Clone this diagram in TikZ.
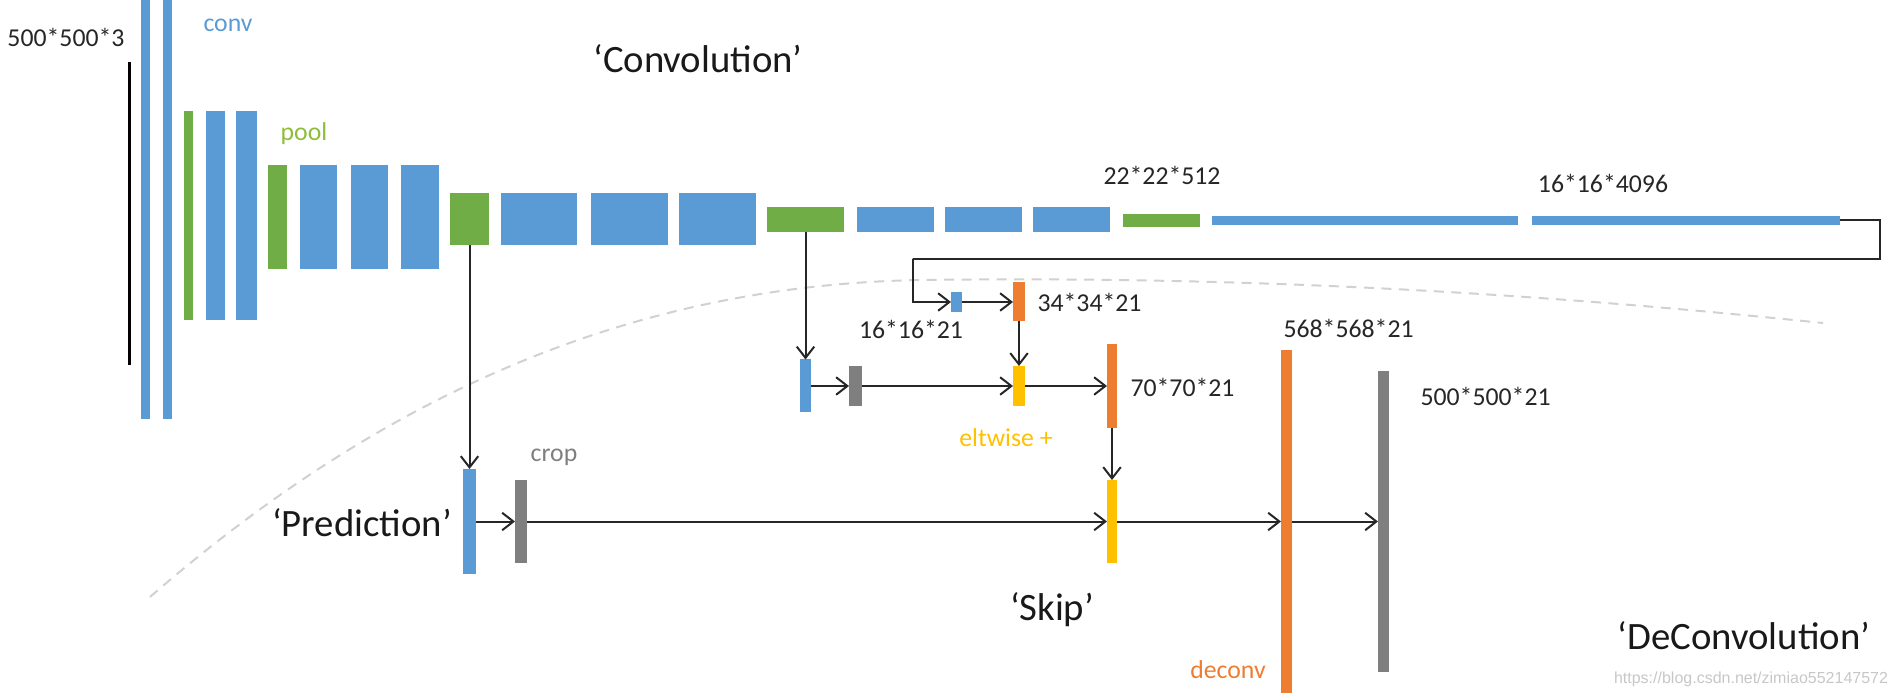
\documentclass[tikz,border=0pt]{standalone}
\usepackage{fontspec}
\setmainfont{Carlito}
\newfontfamily\markfont{Liberation Sans}
\usetikzlibrary{arrows.meta}
\definecolor{convblue}{HTML}{5B9BD5}
\definecolor{poolgreen}{HTML}{70AD47}
\definecolor{deconvorange}{HTML}{ED7D31}
\definecolor{fuseyellow}{HTML}{FFC000}
\definecolor{cropgray}{HTML}{7F7F7F}
\tikzset{
  bar/.style 2 args = {shape=rectangle, inner sep=0pt, outer sep=0pt,
                       minimum width=#1*0.4pt, minimum height=#2*0.4pt},
  conv/.style 2 args   = {bar={#1}{#2}, fill=convblue},
  pool/.style 2 args   = {bar={#1}{#2}, fill=poolgreen},
  deconv/.style 2 args = {bar={#1}{#2}, fill=deconvorange},
  fuse/.style 2 args   = {bar={#1}{#2}, fill=fuseyellow},
  crop/.style 2 args   = {bar={#1}{#2}, fill=cropgray},
  dims/.style  = {inner sep=0pt, text=black!85, font=\fontsize{10.3}{12}\selectfont},
  tag/.style   = {inner sep=0pt, font=\fontsize{10.3}{12}\selectfont},
  stage/.style = {inner sep=0pt, text=black!90, font=\fontsize{15.5}{18}\selectfont},
  flow/.style  = {draw=black!85, line width=0.8pt,
                  -{Straight Barb[length=4.5pt,width=7pt]}},
  split/.style = {draw=black!18, line width=0.8pt, dash pattern=on 4pt off 3pt}
}
\begin{document}
\begin{tikzpicture}[x=0.4pt, y=-0.4pt]
  \useasboundingbox (0,0) rectangle (1897,698);

  % border between convolution and deconvolution
  \draw [split] (150,597) .. controls (400,380) and (650,285) .. (920,280)
                .. controls (1300,275) and (1600,300) .. (1823,323);

  % convolution layers
  \node [bar={3}{303}, fill=black] (img) at (129.5,213.5) {};
  \node [conv={9}{419}]  (c11) at (145.5,209.5) {};
  \node [conv={9}{419}]  (c12) at (167.5,209.5) {};
  \node [pool={9}{209}]  (p1)  at (188.5,215.5) {};
  \node [conv={19}{209}] (c21) at (215.5,215.5) {};
  \node [conv={21}{209}] (c22) at (246.5,215.5) {};
  \node [pool={19}{104}] (p2)  at (277.5,217) {};
  \node [conv={37}{104}] (c31) at (318.5,217) {};
  \node [conv={37}{104}] (c32) at (369.5,217) {};
  \node [conv={38}{104}] (c33) at (420,217) {};
  \node [pool={39}{52}]  (p3)  at (469.5,219) {};
  \node [conv={76}{52}]  (c41) at (539,219) {};
  \node [conv={77}{52}]  (c42) at (629.5,219) {};
  \node [conv={77}{52}]  (c43) at (717.5,219) {};
  \node [pool={77}{25}]  (p4)  at (805.5,219.5) {};
  \node [conv={77}{25}]  (c51) at (895.5,219.5) {};
  \node [conv={77}{25}]  (c52) at (983.5,219.5) {};
  \node [conv={77}{25}]  (c53) at (1071.5,219.5) {};
  \node [pool={77}{13}]  (p5)  at (1161.5,220.5) {};
  \node [conv={306}{9}]  (fc6) at (1365,220.5) {};
  \node [conv={308}{9}]  (fc7) at (1686,220.5) {};

  % score, upsampling and fusion layers
  \node [conv={11}{20}]    (s7)  at (956.5,302) {};
  \node [deconv={12}{39}]  (up2) at (1019,302) {};
  \node [conv={11}{53}]    (s4)  at (805.5,386) {};
  \node [crop={13}{40}]    (cr4) at (855.5,386) {};
  \node [fuse={12}{40}]    (f4)  at (1019,386) {};
  \node [deconv={10}{84}]  (up4) at (1112,386) {};
  \node [conv={13}{105}]   (s3)  at (469.5,521.5) {};
  \node [crop={12}{83}]    (cr3) at (521,521.5) {};
  \node [fuse={10}{83}]    (f3)  at (1112,521.5) {};
  \node [deconv={11}{342}] (up8) at (1286.5,521.5) {};
  \node [crop={11}{301}]   (out) at (1383.5,521.5) {};

  \coordinate (turn) at (913,259);

  \draw [flow] (fc7.east) -| ++(40,39) -| (turn) |- (s7.west);
  \draw [flow] (s7) -- (up2);
  \draw [flow] (up2) -- (f4);
  \draw [flow] (p4) -- (s4);
  \draw [flow] (s4) -- (cr4);
  \draw [flow] (cr4) -- (f4);
  \draw [flow] (f4) -- (up4);
  \draw [flow] (up4) -- (f3);
  \draw [flow] (p3) -- (s3);
  \draw [flow] (s3) -- (cr3);
  \draw [flow] (cr3) -- (f3);
  \draw [flow] (f3) -- (up8);
  \draw [flow] (up8) -- (out);

  % labels
  \node [dims] (limg) at (66,37) {500*500*3};
  \node [tag, text=convblue] (lconv) at (228,25) {conv};
  \node [tag, text=poolgreen!80!yellow] (lpool) at (304,134) {pool};
  \node [stage] (lconvolution) at (698,59) {‘Convolution’};
  \node [dims] (lp5) at (1162,175) {22*22*512};
  \node [dims] (lfc7) at (1603,183) {16*16*4096};
  \node [dims] (ls7) at (911,329) {16*16*21};
  \node [dims, anchor=west] (lup2) at (1037,302) {34*34*21};
  \node [dims, anchor=west] (lup4) at (1130,387) {70*70*21};
  \node [tag, text=fuseyellow] (lfuse) at (1006,438) {eltwise +};
  \node [dims, anchor=west] (lup8) at (1283,328) {568*568*21};
  \node [dims, anchor=west] (lout) at (1420,396) {500*500*21};
  \node [stage] (lpred) at (362,523) {‘Prediction’};
  \node [tag, text=cropgray] (lcrop) at (554,457) {crop};
  \node [stage] (lskip) at (1052,610) {‘Skip’};
  \node [tag, text=deconvorange] (ldeconv) at (1228,670) {deconv};
  \node [stage] (ldeconvolution) at (1744,636) {‘DeConvolution’};
  \node [inner sep=0pt, text=black!22, font=\markfont\fontsize{6.4}{8}\selectfont]
        (lmark) at (1751,679) {https://blog.csdn.net/zimiao552147572};
\end{tikzpicture}
\end{document}
